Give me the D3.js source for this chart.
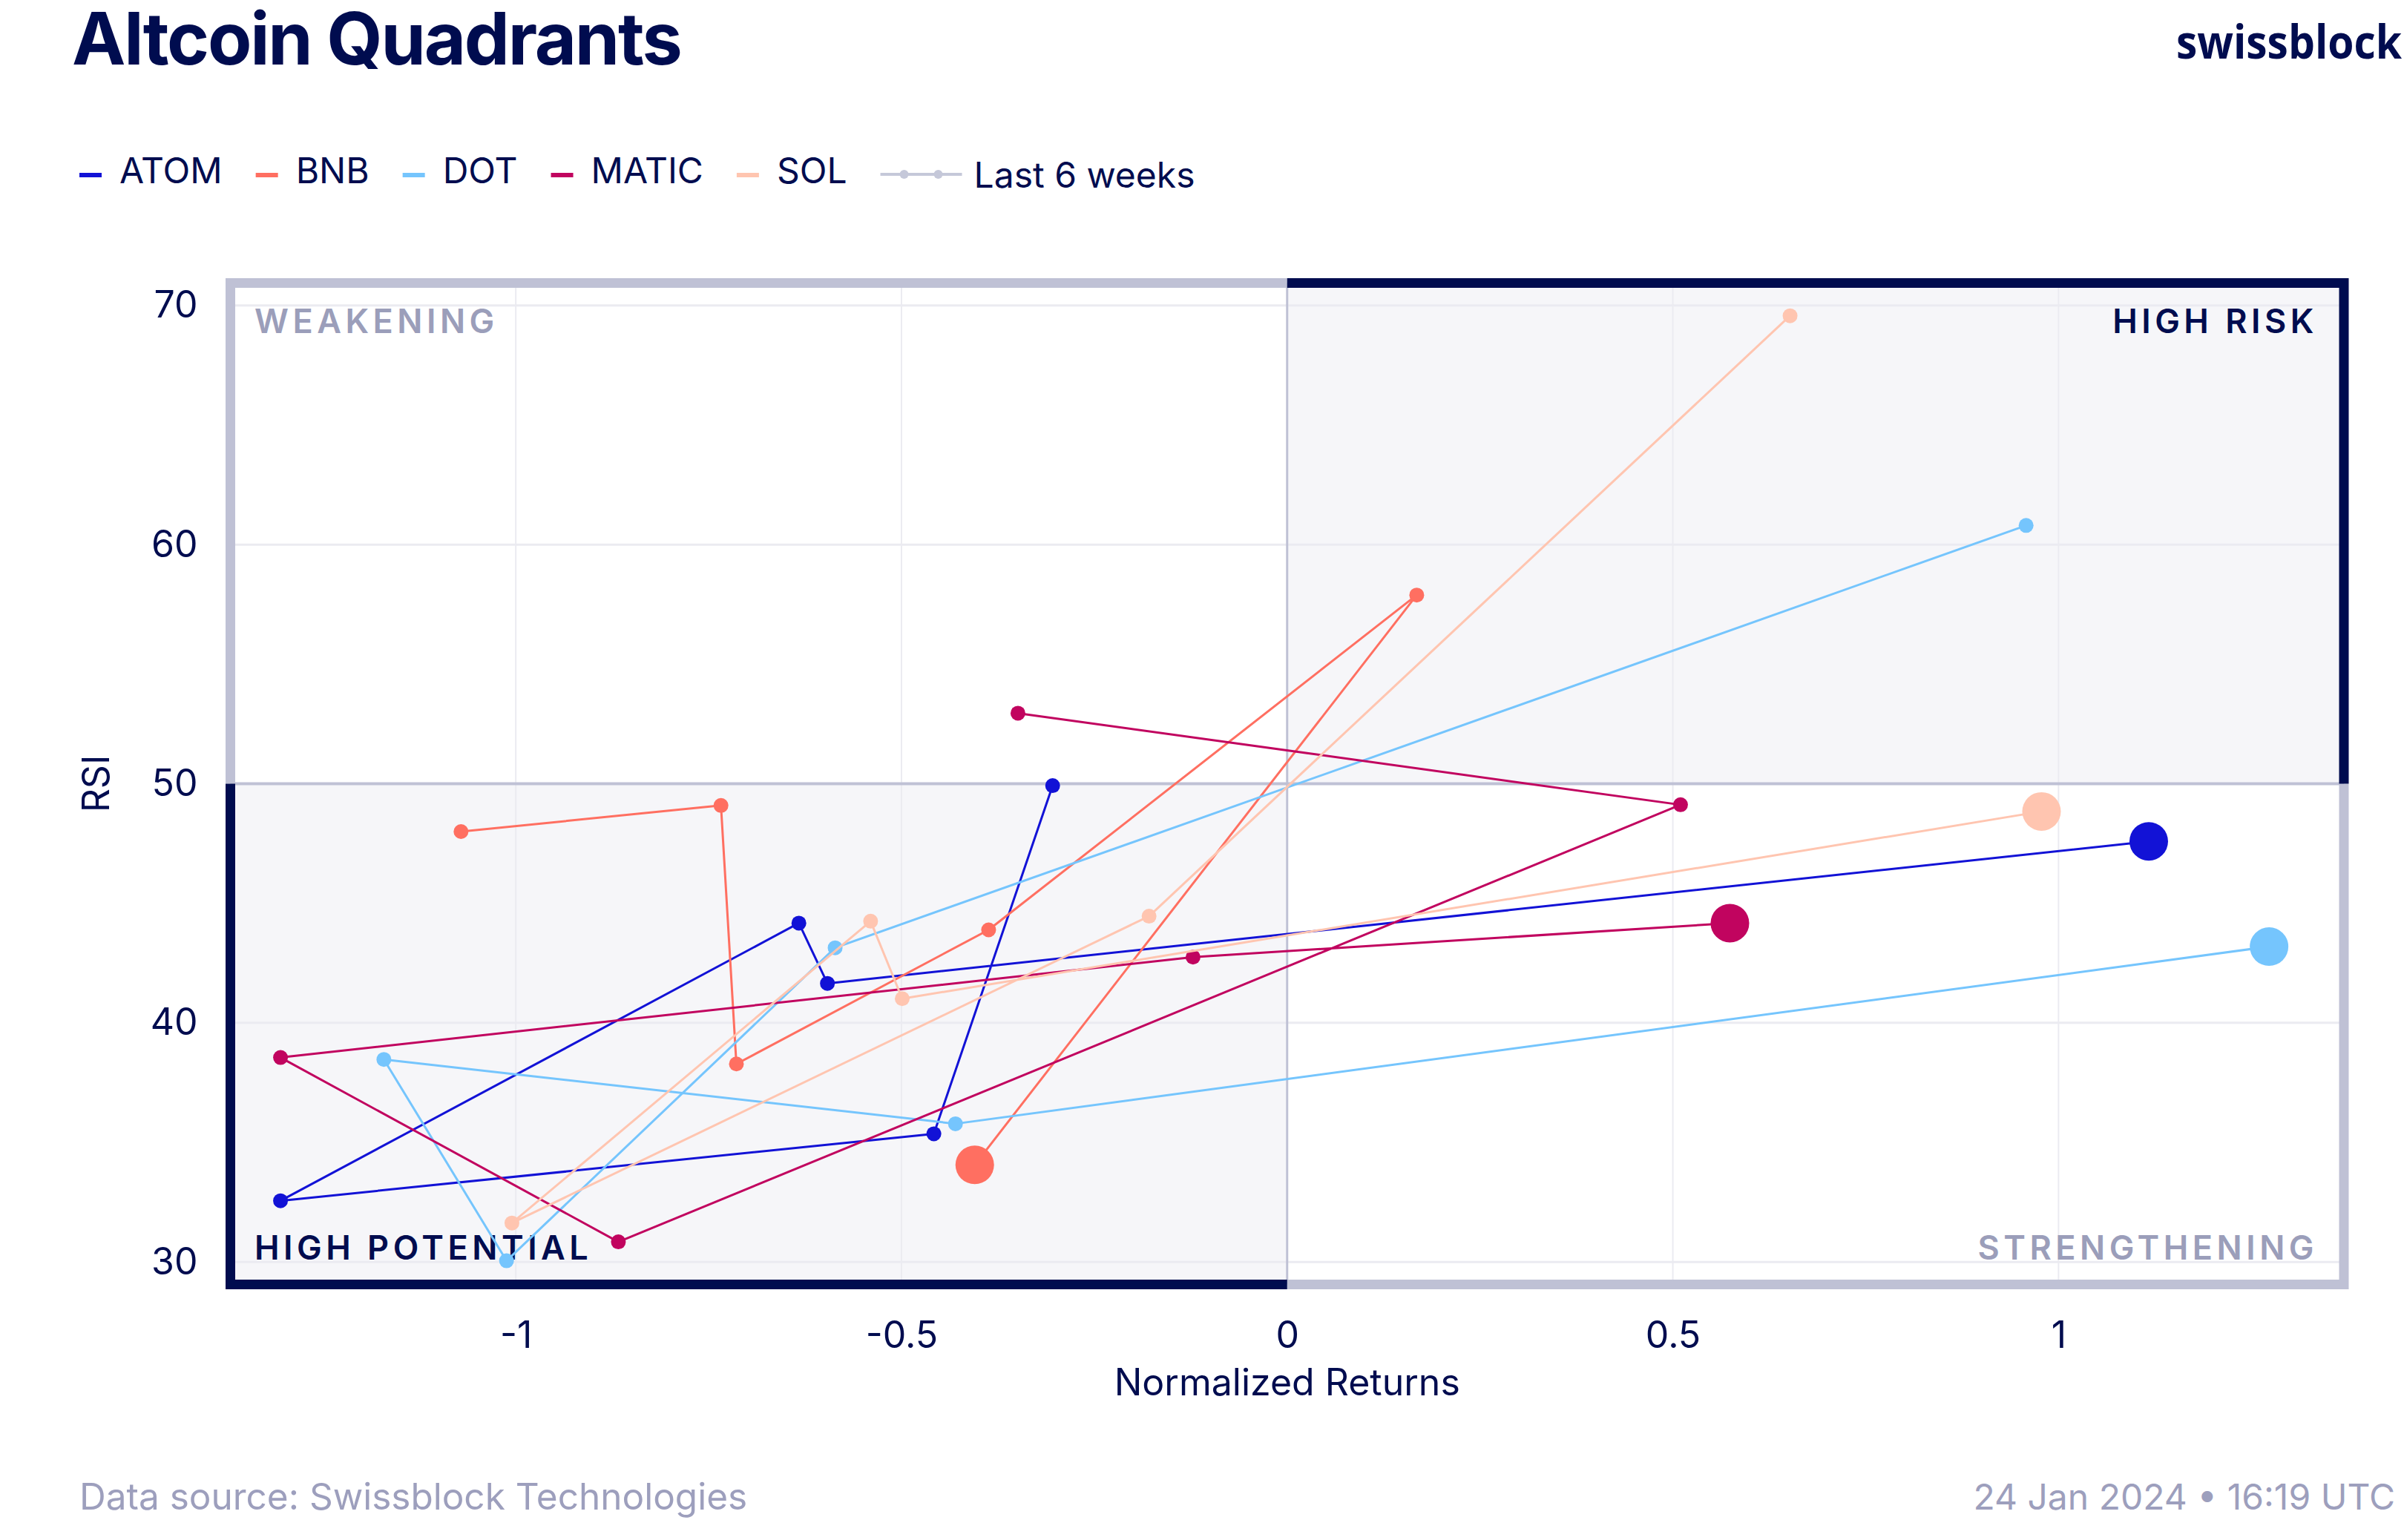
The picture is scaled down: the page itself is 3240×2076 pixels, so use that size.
<!DOCTYPE html>
<html>
<head>
<meta charset="utf-8">
<script src="https://cdn.jsdelivr.net/npm/d3@7/dist/d3.min.js"></script>
<style>
  body { margin: 0; background: #fff; }
  svg text { font-family: Inter, "Noto Sans", sans-serif; }
</style>
</head>
<body>
<div id="chart"></div>
<script>
// Données : 6 dernières semaines, le dernier point = semaine en cours
const coins = ["ATOM", "BNB", "DOT", "MATIC", "SOL"];
const coinColors = ["#1212d6", "#ff6f61", "#75c5fd", "#c1045f", "#ffc5b0"];

const returnsATOM = [-0.304, -0.458, -1.305, -0.633, -0.596, 1.117];
const rsiATOM = [49.92, 35.36, 32.56, 44.17, 41.65, 47.59];

const returnsBNB = [-1.071, -0.734, -0.714, -0.387, 0.168, -0.405];
const rsiBNB = [48.0, 49.09, 38.28, 43.89, 57.89, 34.06];

const returnsDOT = [0.958, -0.586, -1.012, -1.171, -0.430, 1.273];
const rsiDOT = [60.80, 43.14, 30.05, 38.47, 35.78, 43.19];

const returnsMATIC = [-0.349, 0.510, -0.867, -1.305, -0.122, 0.574];
const rsiMATIC = [52.95, 49.12, 30.84, 38.55, 42.75, 44.17];

const returnsSOL = [0.652, -0.179, -1.005, -0.540, -0.499, 0.978];
const rsiSOL = [69.57, 44.46, 31.63, 44.25, 41.01, 48.84];

const xTicks = [-1, -0.5, 0, 0.5, 1];
const yTicks = [30, 40, 50, 60, 70];
const quadrantNames = ["WEAKENING", "HIGH RISK", "HIGH POTENTIAL", "STRENGTHENING"];

const allReturns = [returnsATOM, returnsBNB, returnsDOT, returnsMATIC, returnsSOL];
const allRsi = [rsiATOM, rsiBNB, rsiDOT, rsiMATIC, rsiSOL];

const series = coins.map((c, i) => ({
    name: c,
    color: coinColors[i],
    points: allReturns[i].map((r, j) => ({ x: r, y: allRsi[i][j], last: j == allReturns[i].length - 1 }))
}));

// taille
const width = 3240, height = 2076;
const navy = "#000c4f", lightFrame = "#bfc1d5", labelGrey = "#9b9eba";

const svg = d3.select("#chart").append("svg")
    .attr("width", width)
    .attr("height", height);

svg.append("rect").attr("width", width).attr("height", height).attr("fill", "#fff");

// échelles
const x = d3.scaleLinear().domain([-1.37, 1.37]).range([310.5, 3159]);
const y = d3.scaleLinear().domain([29.06, 70.94]).range([1731.5, 381.5]);

const x0 = x(-1.37), x1 = x(1.37), xm = x(0);
const yT = y(70.94), yB = y(29.06), ym = y(50);

// fonds des quadrants
svg.append("rect").attr("x", xm).attr("y", yT).attr("width", x1 - xm).attr("height", ym - yT).attr("fill", "#f6f6f9");
svg.append("rect").attr("x", x0).attr("y", ym).attr("width", xm - x0).attr("height", yB - ym).attr("fill", "#f6f6f9");

// grille
const grid = svg.append("g");
grid.selectAll(".gx")
    .data(xTicks.filter(d => d != 0))
    .join("line")
    .attr("x1", d => x(d)).attr("x2", d => x(d))
    .attr("y1", yT).attr("y2", yB)
    .attr("stroke", "#ebebf1").attr("stroke-width", 2);
grid.selectAll(".gy")
    .data(yTicks.filter(d => d != 50))
    .join("line")
    .attr("y1", d => y(d)).attr("y2", d => y(d))
    .attr("x1", x0).attr("x2", x1)
    .attr("stroke", "#ebebf1").attr("stroke-width", 3);

// lignes centrales
svg.append("line").attr("x1", xm).attr("x2", xm).attr("y1", yT).attr("y2", yB)
    .attr("stroke", lightFrame).attr("stroke-width", 3);
svg.append("line").attr("x1", x0).attr("x2", x1).attr("y1", ym).attr("y2", ym)
    .attr("stroke", lightFrame).attr("stroke-width", 4);

// cadre
const frameW = 13;
const framePaths = [
    { d: `M${x0},${ym} L${x0},${yT} L${xm},${yT}`, c: lightFrame },
    { d: `M${xm},${yB} L${x1},${yB} L${x1},${ym}`, c: lightFrame },
    { d: `M${xm},${yT} L${x1},${yT} L${x1},${ym}`, c: navy },
    { d: `M${x0},${ym} L${x0},${yB} L${xm},${yB}`, c: navy }
];
svg.selectAll(".frame")
    .data(framePaths)
    .join("path")
    .attr("d", d => d.d)
    .attr("fill", "none")
    .attr("stroke", d => d.c)
    .attr("stroke-width", frameW)
    .attr("stroke-linejoin", "miter");

// étiquettes des quadrants
const qStyle = sel => sel.style("font-size", "45px").style("font-weight", 600).style("letter-spacing", "5.5px");
svg.append("text").attr("x", 343).attr("y", 449).attr("fill", labelGrey).call(qStyle).text(quadrantNames[0]);
svg.append("text").attr("x", 3124).attr("y", 449).attr("text-anchor", "end").attr("fill", navy).call(qStyle).text(quadrantNames[1]);
svg.append("text").attr("x", 343).attr("y", 1698).attr("fill", navy).call(qStyle).text(quadrantNames[2]);
svg.append("text").attr("x", 3124).attr("y", 1698).attr("text-anchor", "end").attr("fill", labelGrey).call(qStyle).text(quadrantNames[3]);

// axes
const fmt = d => String(d);
const xAxis = svg.append("g")
    .attr("transform", `translate(0,${yB})`)
    .call(d3.axisBottom(x).tickValues(xTicks).tickSize(0).tickPadding(50).tickFormat(fmt));
const yAxis = svg.append("g")
    .attr("transform", `translate(${x0},0)`)
    .call(d3.axisLeft(y).tickValues(yTicks).tickSize(0).tickPadding(44).tickFormat(fmt));
[xAxis, yAxis].forEach(a => {
    a.select(".domain").remove();
    a.selectAll("text")
        .attr("fill", navy)
        .style("font-size", "50px")
        .style("font-family", "Inter, sans-serif");
});

svg.append("text")
    .attr("x", xm).attr("y", 1881)
    .attr("text-anchor", "middle")
    .attr("fill", navy)
    .style("font-size", "50px")
    .text("Normalized Returns");

svg.append("text")
    .attr("transform", `translate(147,${ym}) rotate(-90)`)
    .attr("text-anchor", "middle")
    .attr("fill", navy)
    .style("font-size", "50px")
    .text("RSI");

// séries
const line = d3.line().x(d => x(d.x)).y(d => y(d.y));
const plot = svg.append("g");
series.forEach(s => {
    plot.append("path")
        .datum(s.points)
        .attr("d", line)
        .attr("fill", "none")
        .attr("stroke", s.color)
        .attr("stroke-width", 3)
        .attr("stroke-linejoin", "round");
    plot.append("g")
        .selectAll("circle")
        .data(s.points)
        .join("circle")
        .attr("cx", d => x(d.x))
        .attr("cy", d => y(d.y))
        .attr("r", d => d.last ? 26 : 10)
        .attr("fill", s.color);
});

// titre
svg.append("text")
    .attr("x", 97).attr("y", 87)
    .attr("fill", navy)
    .style("font-size", "97px")
    .style("font-weight", 700)
    .style("letter-spacing", "-2.2px")
    .text("Altcoin Quadrants");

svg.append("text")
    .attr("x", 3237).attr("y", 79)
    .attr("text-anchor", "end")
    .attr("fill", navy)
    .style("font-family", "'Open Sans', sans-serif")
    .style("font-size", "62px")
    .style("font-weight", 700)
    .attr("textLength", 304)
    .attr("lengthAdjust", "spacingAndGlyphs")
    .text("swissblock");

// légende
const legend = svg.append("g").style("font-size", "48px");
let lx = 107;
series.forEach(s => {
    legend.append("rect")
        .attr("x", lx).attr("y", 233)
        .attr("width", 30).attr("height", 6)
        .attr("fill", s.color);
    const t = legend.append("text")
        .attr("x", lx + 54).attr("y", 247)
        .attr("fill", navy)
        .text(s.name);
    lx = lx + 54 + t.node().getComputedTextLength() + 45;
});
legend.append("line")
    .attr("x1", lx).attr("x2", lx + 110)
    .attr("y1", 235).attr("y2", 235)
    .attr("stroke", "#c5c8d9").attr("stroke-width", 4);
legend.selectAll(".ld")
    .data([lx + 32, lx + 78])
    .join("circle")
    .attr("cx", d => d).attr("cy", 235).attr("r", 6)
    .attr("fill", "#c5c8d9");
legend.append("text")
    .attr("x", lx + 126).attr("y", 253)
    .attr("fill", navy)
    .text("Last 6 weeks");

// pied de page
svg.append("text")
    .attr("x", 107).attr("y", 2035)
    .attr("fill", "#9d9fbd")
    .style("font-size", "49.5px")
    .text("Data source: Swissblock Technologies");
svg.append("text")
    .attr("x", 3228).attr("y", 2035)
    .attr("text-anchor", "end")
    .attr("fill", "#9d9fbd")
    .style("font-size", "48px")
    .text("24 Jan 2024 • 16:19 UTC");
</script>
</body>
</html>
